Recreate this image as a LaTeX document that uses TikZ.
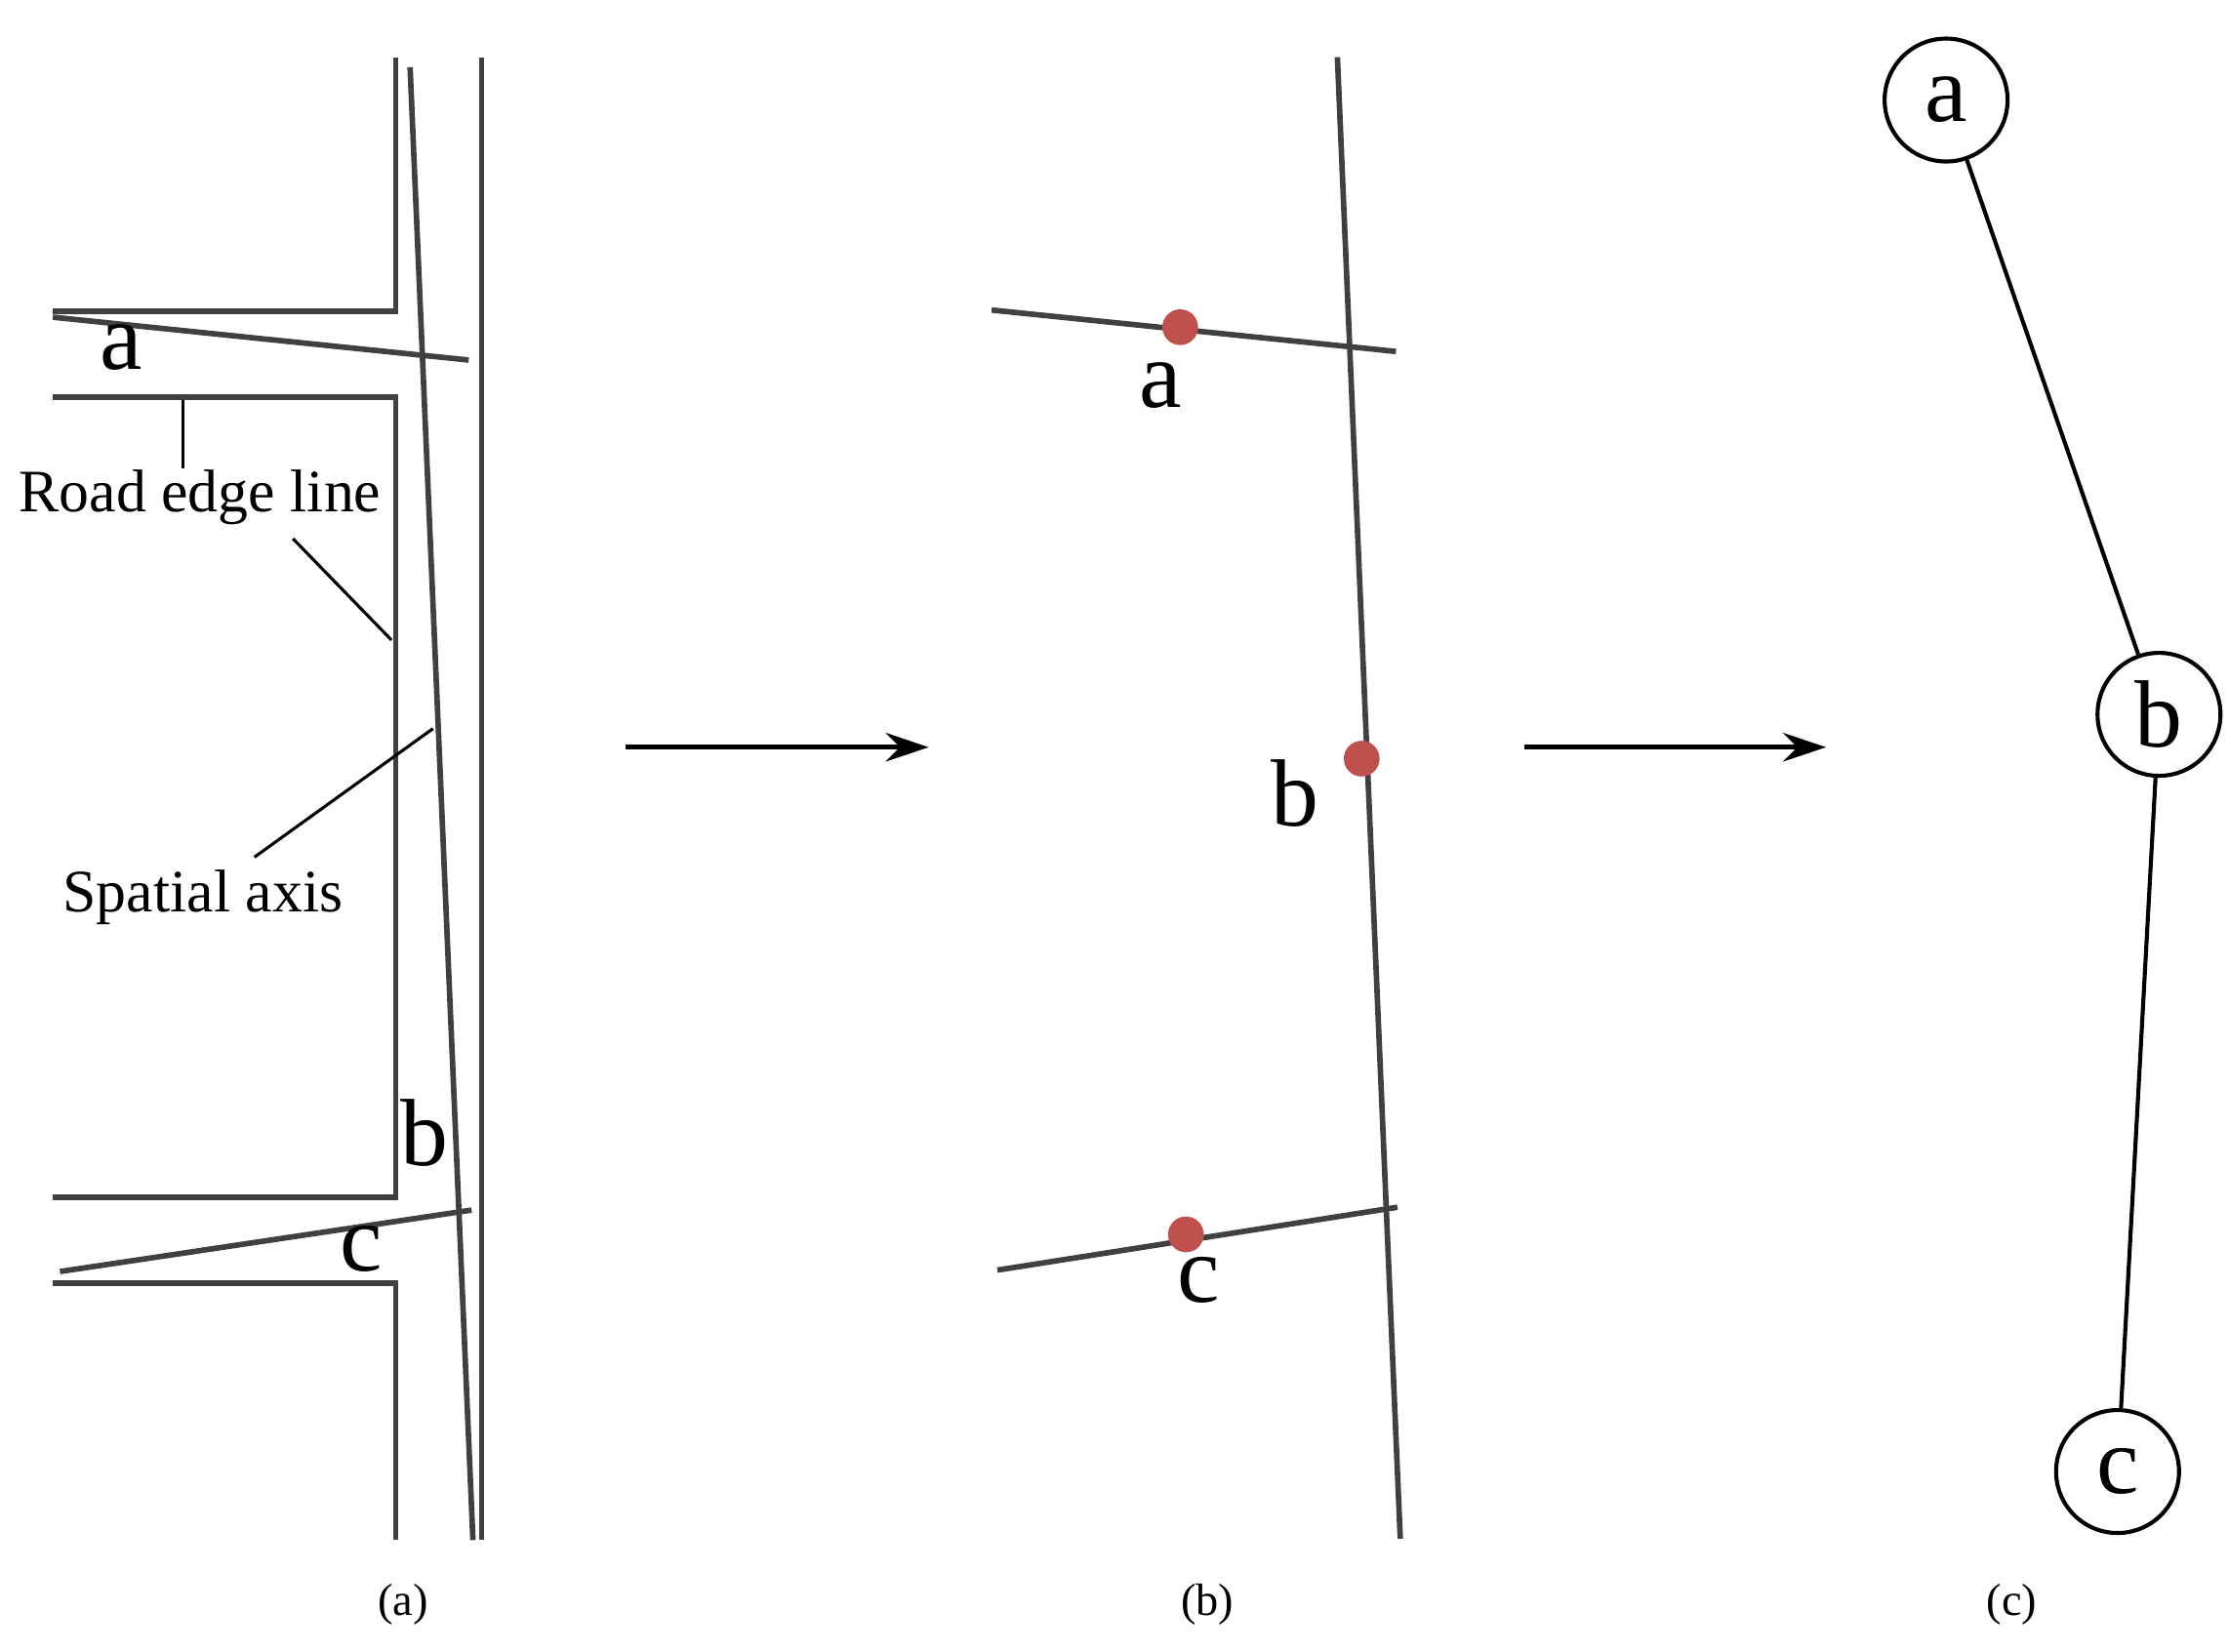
\documentclass[tikz,border=0pt]{standalone}
\usepackage{fontspec}
\setmainfont{Liberation Serif}
\usetikzlibrary{arrows.meta}
\definecolor{ln}{HTML}{404040}
\definecolor{dotc}{HTML}{C0504D}
\begin{document}
\begin{tikzpicture}[x=0.01cm,y=-0.01cm,
  road/.style={draw=ln,line width=1.1pt},
  thin/.style={draw=black,line width=0.6pt},
  lbl/.style={font=\fontsize{19}{20}\selectfont},
  small/.style={font=\fontsize{12}{13}\selectfont},
  captxt/.style={font=\fontsize{9}{10}\selectfont},
  dotn/.style={circle,fill=dotc,inner sep=0pt,minimum size=0.25cm},
  cnode/.style={circle,draw=black,line width=0.8pt,minimum size=0.86cm,inner sep=0pt,font=\fontsize{19}{20}\selectfont}]
\useasboundingbox (0,0) rectangle (1560,1156);
% panel a
\draw[road] (277,40) -- (277,218) -- (37,218);
\draw[road] (37,278) -- (277,278) -- (277,838) -- (37,838);
\draw[road] (37,898) -- (277,898) -- (277,1078);
\draw[road] (337,40) -- (337,1078);
\draw[road] (287,47) -- (331,1078);
\draw[road] (37,222) -- (328,252);
\draw[road] (42,890) -- (330,847);
\node[lbl] (la) at (85,243) {a};
\node[lbl] (lb) at (297,793) {b};
\node[lbl] (lc) at (253,874) {c};
\node[small] (rel) at (140,348) {Road edge line};
\node[small] (sa) at (142,628) {Spatial axis};
\coordinate (r1) at (128,280); \coordinate (r2) at (128,328);
\coordinate (r3) at (205,377); \coordinate (r4) at (274,448);
\coordinate (s1) at (178,600); \coordinate (s2) at (303,510);
\draw[thin] (r1) -- (r2); \draw[thin] (r3) -- (r4); \draw[thin] (s1) -- (s2);
\node[captxt] (ca) at (282,1123) {(a)};
% arrows
\coordinate (a1) at (438,523); \coordinate (a2) at (650,523);
\coordinate (a3) at (1067,523); \coordinate (a4) at (1278,523);
\draw[line width=1pt,-{Stealth[length=0.3cm,width=0.2cm]}] (a1) -- (a2);
\draw[line width=1pt,-{Stealth[length=0.3cm,width=0.2cm]}] (a3) -- (a4);
% panel b
\draw[road] (936,40) -- (980,1077);
\draw[road] (694,217) -- (977,246);
\draw[road] (698,889) -- (978,845);
\node[dotn] (da) at (826,229) {};
\node[dotn] (db) at (953,531) {};
\node[dotn] (dc) at (830,864) {};
\node[lbl] (ba) at (812,270) {a};
\node[lbl] (bb) at (906,555) {b};
\node[lbl] (bc) at (839,896) {c};
\node[captxt] (cb) at (845,1123) {(b)};
% panel c
\node[cnode] (na) at (1362,70) {a};
\node[cnode] (nb) at (1511,500) {b};
\node[cnode] (nc) at (1482,1030) {c};
\draw[thin,line width=0.8pt] (na) -- (nb) -- (nc);
\node[captxt] (cc) at (1408,1123) {(c)};
\end{tikzpicture}
\end{document}
